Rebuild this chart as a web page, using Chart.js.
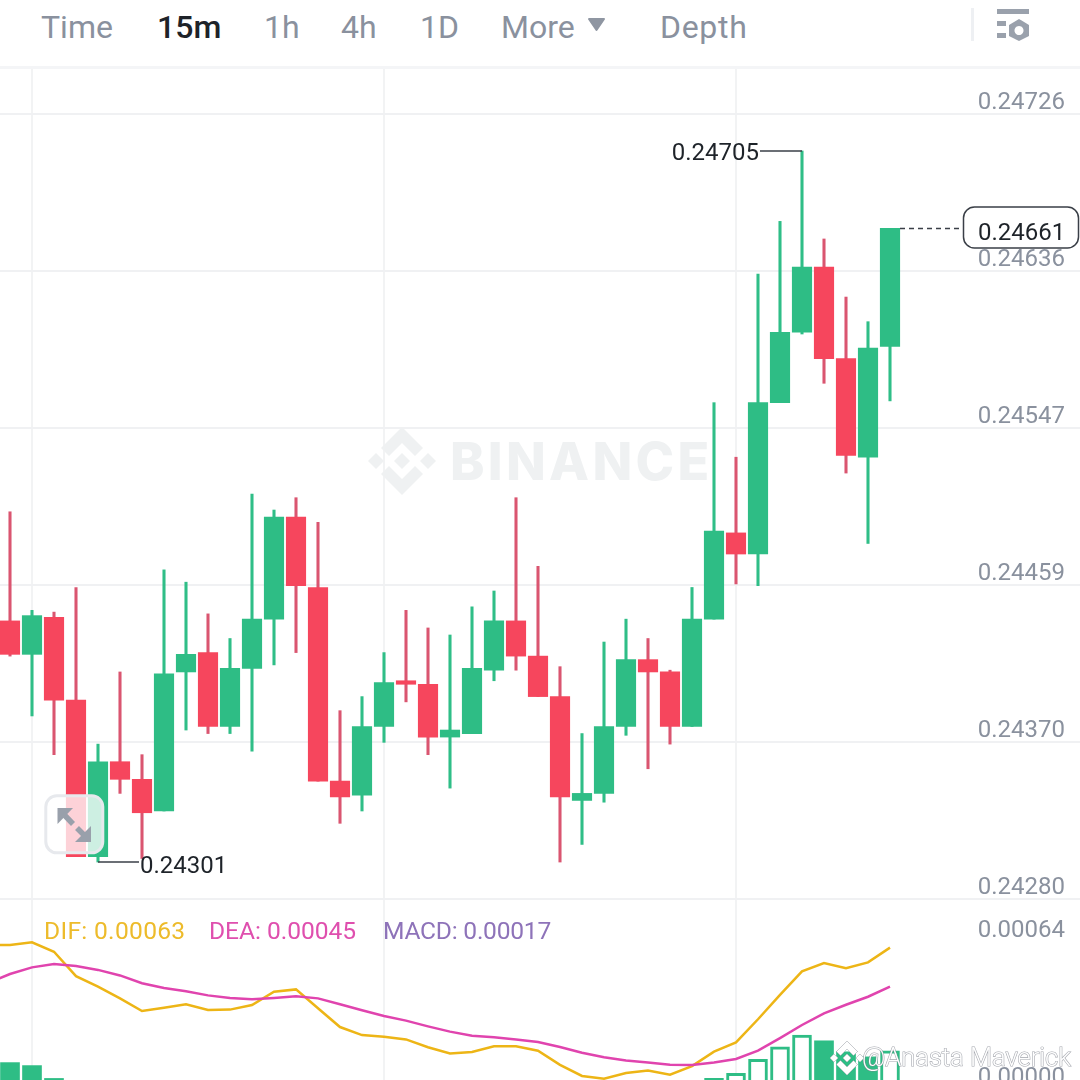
<!DOCTYPE html>
<html><head><meta charset="utf-8">
<script src="https://cdn.jsdelivr.net/npm/chart.js@4"></script>
<style>
html,body{margin:0;padding:0;background:#fff;width:1080px;height:1080px;overflow:hidden;font-family:Roboto,sans-serif}
canvas{position:absolute;left:0;top:0}
#head{position:absolute;left:0;top:0;width:1080px;height:66px;background:#fff;border-bottom:3px solid #f4f5f7;z-index:2}
#head span{position:absolute;top:0;line-height:54px;font-size:32px;color:#8a919e;white-space:nowrap}
#head span.on{color:#1e2329;font-weight:500}
#head svg{position:absolute;left:0;top:0}
</style></head><body>
<div id="head">
<span style="left:41px">Time</span><span class="on" style="left:157px">15m</span><span style="left:264px">1h</span><span style="left:341px">4h</span><span style="left:420px">1D</span><span style="left:501px">More</span><span style="left:660px;letter-spacing:.7px">Depth</span>
<svg width="1080" height="66">
<path d="M589 19H604L596.5 30Z" fill="#8f96a2" stroke="#8f96a2" stroke-width="2" stroke-linejoin="round"/>
<rect x="971" y="8" width="3" height="33" fill="#eef0f3"/>
<rect x="997" y="9" width="32" height="5" fill="#9aa1ac"/>
<rect x="997" y="21" width="9" height="5" fill="#9aa1ac"/>
<rect x="997" y="33" width="9" height="5" fill="#9aa1ac"/>
<path fill-rule="evenodd" fill="#9aa1ac" d="M1019 19L1029 25V36L1019 41L1009 36V25ZM1019 26a4.5 4.5 0 1 0 .01 0Z"/>
</svg>
</div>
<canvas id="c" width="1080" height="1120"></canvas>
<script>
const candleOpen=[0.24438,0.24419,0.24440,0.24393,0.24304,0.24358,0.24348,0.24330,0.24409,0.24420,0.24378,0.24411,0.24439,0.24497,0.24457,0.24347,0.24339,0.24378,0.24404,0.24402,0.24372,0.24374,0.24410,0.24438,0.24418,0.24395,0.24336,0.24340,0.24378,0.24416,0.24409,0.24378,0.24439,0.24488,0.24476,0.24562,0.24602,0.24639,0.24587,0.24531,0.24594];
const candleClose=[0.24419,0.24441,0.24393,0.24304,0.24358,0.24348,0.24329,0.24408,0.24419,0.24378,0.24411,0.24439,0.24497,0.24458,0.24347,0.24338,0.24378,0.24403,0.24402,0.24372,0.24376,0.24411,0.24438,0.24418,0.24395,0.24338,0.24340,0.24378,0.24416,0.24409,0.24378,0.24439,0.24489,0.24476,0.24562,0.24602,0.24639,0.24587,0.24532,0.24593,0.24661];
const candleHigh=[0.24500,0.24444,0.24443,0.24457,0.24368,0.24409,0.24362,0.24467,0.24460,0.24442,0.24428,0.24510,0.24501,0.24508,0.24494,0.24387,0.24395,0.24420,0.24444,0.24434,0.24430,0.24446,0.24455,0.24508,0.24469,0.24412,0.24374,0.24426,0.24439,0.24428,0.24410,0.24457,0.24562,0.24531,0.24635,0.24665,0.24705,0.24655,0.24622,0.24608,0.24661];
const candleLow=[0.24418,0.24384,0.24362,0.24304,0.24301,0.24340,0.24303,0.24330,0.24376,0.24374,0.24374,0.24364,0.24413,0.24420,0.24347,0.24323,0.24330,0.24369,0.24392,0.24362,0.24343,0.24374,0.24404,0.24410,0.24395,0.24301,0.24311,0.24335,0.24373,0.24354,0.24368,0.24378,0.24439,0.24459,0.24458,0.24562,0.24601,0.24573,0.24522,0.24482,0.24563];
// first entry of each MACD line belongs to the candle just off the left edge
const dif=[0.000625,0.000627,0.000638,0.000597,0.000491,0.000445,0.000394,0.000339,0.000353,0.000368,0.000343,0.000345,0.000365,0.000423,0.000433,0.000351,0.000269,0.000234,0.000227,0.000215,0.000181,0.000154,0.000160,0.000185,0.000185,0.000166,0.000104,0.000056,0.000044,0.000069,0.000080,0.000061,0.000099,0.000162,0.000202,0.000303,0.000409,0.000512,0.000548,0.000525,0.000551,0.000615];
const dea=[0.000460,0.000500,0.000529,0.000544,0.000535,0.000518,0.000494,0.000460,0.000439,0.000425,0.000407,0.000396,0.000390,0.000396,0.000403,0.000394,0.000368,0.000342,0.000317,0.000297,0.000272,0.000249,0.000231,0.000224,0.000215,0.000204,0.000182,0.000157,0.000137,0.000123,0.000114,0.000105,0.000104,0.000114,0.000130,0.000166,0.000221,0.000278,0.000329,0.000366,0.000401,0.000445];
const macdBars=[0.000114,0.000101,0.000045,null,null,null,null,null,null,null,null,null,null,null,null,null,null,null,null,null,null,null,null,null,null,null,null,null,null,null,null,null,0.000045,0.000067,0.000128,0.000183,0.000234,0.000209,0.000161,0.000139,0.000165];
const macdBarHollow=[32,33,34,35,36,40];
const priceTicks=[0.24726,0.246368,0.245476,0.244584,0.243692,0.2428];
const priceTickLabels=["0.24726","0.24636","0.24547","0.24459","0.24370","0.24280"];
const macdTicks=[0.00064,0];
const macdTickLabels=["0.00064","0.00000"];
const timeGridIndex=[1,17,33];
const legendTexts=["DIF: 0.00063","DEA: 0.00045","MACD: 0.00017"];
const highPrice=0.24705, highIndex=36, lowPrice=0.24301, lowIndex=4, lastPrice=0.24661;

const UP='#2EBD85',DOWN='#F6465D',UPW='#2FBE87',DOWNW='#DA5570';
const FONT='Roboto, sans-serif';
const isUp=i=>candleClose[i]>=candleOpen[i];
const idx=candleOpen.map((_,i)=>i);

function chevronLogo(ctx,cx,cy,s,fill,stroke){
  const polys=[
    [[0,-34],[21,-13],[13,-5],[0,-18],[-13,-5],[-21,-13]],
    [[0,34],[21,13],[13,5],[0,18],[-13,5],[-21,13]],
    [[0,-8],[8,0],[0,8],[-8,0]],
    [[-26,-8],[-18,0],[-26,8],[-34,0]],
    [[26,-8],[34,0],[26,8],[18,0]]];
  ctx.save();ctx.fillStyle=fill;if(stroke){ctx.strokeStyle=stroke;ctx.lineWidth=1;}
  polys.forEach(p=>{ctx.beginPath();p.forEach((q,i)=>{const x=cx+q[0]*s,y=cy+q[1]*s;i?ctx.lineTo(x,y):ctx.moveTo(x,y);});ctx.closePath();if(stroke)ctx.stroke();ctx.fill();});
  ctx.restore();
}
const backdrop={id:'backdrop',beforeDatasetsDraw(ch){
  const c=ch.ctx;
  chevronLogo(c,402,461,1,'#eff1f2');
  c.save();c.fillStyle='#eff1f2';c.font='800 52px Inter, '+FONT;c.letterSpacing='3.3px';
  c.textBaseline='alphabetic';c.textAlign='left';c.fillText('BINANCE',450,480);c.restore();
}};
const overlay={id:'overlay',afterDatasetsDraw(ch){
  const c=ch.ctx,x=ch.scales.x,y=ch.scales.y;
  c.save();
  // legend
  c.font='24.6px '+FONT;c.textBaseline='middle';c.textAlign='left';
  [['#EDBB2B',44,'0.3px'],['#DF4FAE',209,'-0.05px'],['#8E73B9',383,'-0.25px']].forEach((s,i)=>{c.fillStyle=s[0];c.letterSpacing=s[2];c.fillText(legendTexts[i],s[1],932.5);});
  c.letterSpacing='0px';
  // high marker
  c.strokeStyle='#3a3f47';c.lineWidth=1.5;c.fillStyle='#1e2329';c.font='24px '+FONT;
  const hx=x.getPixelForValue(highIndex),hy=y.getPixelForValue(highPrice);
  c.beginPath();c.moveTo(hx,hy);c.lineTo(760,hy);c.stroke();
  c.textAlign='right';c.fillText(highPrice.toFixed(5),759,hy+3);
  // low marker
  const lx=x.getPixelForValue(lowIndex),ly=y.getPixelForValue(lowPrice);
  c.beginPath();c.moveTo(lx,ly);c.lineTo(139,ly);c.stroke();
  c.textAlign='left';c.fillText(lowPrice.toFixed(5),140,ly+5);
  // last price
  const py=y.getPixelForValue(lastPrice);
  c.setLineDash([5,4]);c.beginPath();c.moveTo(x.getPixelForValue(40)+10,py);c.lineTo(963,py);c.stroke();c.setLineDash([]);
  c.fillStyle='#fff';c.beginPath();c.roundRect(963.5,207,115,41,11);c.fill();c.stroke();
  c.fillStyle='#1e2329';c.textAlign='left';c.fillText(lastPrice.toFixed(5),978,234);
  // expand button
  c.fillStyle='rgba(255,255,255,0.76)';c.strokeStyle='#e7e9ed';c.lineWidth=3;
  c.beginPath();c.roundRect(45.8,795.8,57,57,11);c.fill();c.stroke();
  c.fillStyle='#99a0ab';c.strokeStyle='#99a0ab';c.lineWidth=5.5;
  c.beginPath();c.moveTo(57.5,808);c.lineTo(73,808);c.lineTo(57.5,824);c.closePath();c.fill();
  c.beginPath();c.moveTo(63,813.5);c.lineTo(73,824);c.stroke();
  c.beginPath();c.moveTo(91,842);c.lineTo(75,842);c.lineTo(91,826);c.closePath();c.fill();
  c.beginPath();c.moveTo(85,836);c.lineTo(77,828);c.stroke();
  // author watermark
  chevronLogo(c,847,1058,0.5,'#ffffff','rgba(120,126,136,0.75)');
  c.font='300 25.5px '+FONT;c.textAlign='left';c.textBaseline='middle';
  c.strokeStyle='rgba(125,130,140,0.7)';c.lineWidth=1.2;c.strokeText('@Anasta Maverick',862,1060);
  c.fillStyle='#fff';c.fillText('@Anasta Maverick',862,1060);
  c.restore();
}};
const flat=s=>{s.paddingTop=s.paddingBottom=s.paddingLeft=s.paddingRight=0;};
const commonY={display:true,position:'right',border:{display:false}};
new Chart(document.getElementById('c'),{
  data:{datasets:[
    {type:'line',label:'DIF',yAxisID:'y2',order:1,data:dif.map((v,i)=>({x:i-1,y:v})),borderColor:'#EDB516',borderWidth:2.5,pointRadius:0,tension:0},
    {type:'line',label:'DEA',yAxisID:'y2',order:0,data:dea.map((v,i)=>({x:i-1,y:v})),borderColor:'#E044AE',borderWidth:2.5,pointRadius:0,tension:0},
    {type:'bar',label:'MACD',yAxisID:'y2',order:2,grouped:false,barThickness:19,data:idx.map(i=>({x:i,y:macdBars[i]})),
      backgroundColor:idx.map(i=>macdBarHollow.includes(i)?'#fff':UP),borderColor:UP,borderWidth:idx.map(i=>macdBarHollow.includes(i)?3:0)},
    {type:'bar',label:'Body',yAxisID:'y',order:3,grouped:false,barThickness:19.5,data:idx.map(i=>({x:i,y:[candleOpen[i],candleClose[i]]})),
      backgroundColor:idx.map(i=>isUp(i)?UP:DOWN)},
    {type:'bar',label:'Wick',yAxisID:'y',order:4,grouped:false,barThickness:2.4,data:idx.map(i=>({x:i,y:[candleLow[i],candleHigh[i]]})),
      backgroundColor:idx.map(i=>isUp(i)?UPW:DOWNW)}
  ]},
  options:{responsive:false,animation:false,devicePixelRatio:1,layout:{padding:0},
    plugins:{legend:{display:false},tooltip:{enabled:false}},
    scales:{
      x:{type:'linear',min:-10/22,max:1070/22,display:true,offset:false,border:{display:false},
        afterBuildTicks:s=>{s.ticks=timeGridIndex.map(v=>({value:v}));},
        ticks:{display:false},grid:{offset:false,color:'#f2f3f4',lineWidth:2,drawTicks:false},afterFit:s=>{flat(s);s.height=0;}},
      y:{...commonY,type:'linear',min:0.2415444,max:0.2479077,
        afterBuildTicks:s=>{s.ticks=priceTicks.map(v=>({value:v}));},
        ticks:{mirror:true,padding:-15,labelOffset:-11,autoSkip:false,color:'#8a919e',font:{family:FONT,size:24},
          callback:(v)=>priceTickLabels[priceTicks.indexOf(v)]},
        grid:{color:'#f0f1f3',lineWidth:2,drawTicks:false},afterFit:s=>{flat(s);s.width=0;}},
      y2:{...commonY,type:'linear',min:-0.00013616,max:0.00474536,
        afterBuildTicks:s=>{s.ticks=macdTicks.map(v=>({value:v}));},
        ticks:{mirror:true,padding:-15,labelOffset:-11,autoSkip:false,color:'#8a919e',font:{family:FONT,size:24},
          callback:(v)=>macdTickLabels[macdTicks.indexOf(v)]},
        grid:{display:false,drawTicks:false},afterFit:s=>{flat(s);s.width=0;}}
    }
  },
  plugins:[backdrop,overlay]
});
</script></body></html>
